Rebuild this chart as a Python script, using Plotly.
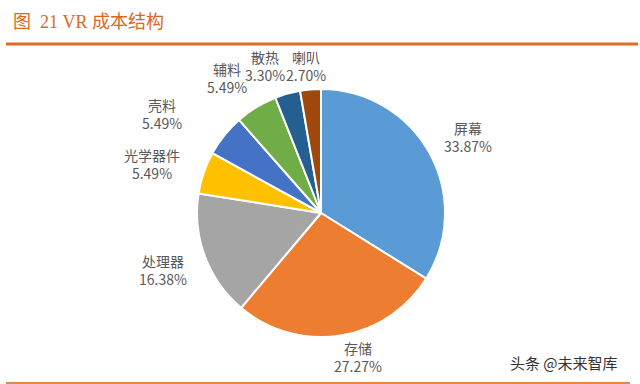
import math
import plotly.graph_objects as go

categories = ["屏幕", "存储", "处理器", "光学器件", "壳料", "辅料", "散热", "喇叭"]
shares = [33.87, 27.27, 16.38, 5.49, 5.49, 5.49, 3.30, 2.70]
colors = ["#5B9BD5", "#ED7D31", "#A5A5A5", "#FFC000", "#4472C4", "#70AD47", "#255E91", "#9E480E"]
title_text = "图  21 VR 成本结构"
watermark = "头条 @未来智库"

W, H = 640, 384
CX, CY, R = 321, 213, 124  # pie centre / radius in pixels
# per-label nudges (pixels) mimicking the Excel label placement
nudges = [(8, 0), (12, -10), (-9, 3), (-14, 2), (-38, -1), (-13, -2), (-14, 3), (-2, 8)]

fig = go.Figure()
fig.add_trace(go.Pie(
    labels=categories, values=shares, sort=False, direction="clockwise", rotation=0,
    marker=dict(colors=colors, line=dict(color="white", width=2)),
    textinfo="none", hoverinfo="label+percent", showlegend=False,
    domain=dict(x=[(CX - R) / W, (CX + R) / W], y=[(H - CY - R) / H, (H - CY + R) / H]),
))

total = sum(shares)
cum = 0.0
annotations = []
for cat, v, (nx, ny) in zip(categories, shares, nudges):
    mid = (cum + v / 2) / total * 2 * math.pi
    cum += v
    ux, uy = math.sin(mid), -math.cos(mid)
    label = f"{v:.2f}%"
    w = max(len(label) * 7.8, len(cat) * 14)
    h = 40
    px = CX + (R + 12) * ux + (w / 2) * ux + nx
    py = CY + (R + 12) * uy + (h / 2) * uy + ny
    annotations.append(dict(
        x=px / W, y=1 - py / H, xref="paper", yref="paper",
        text=f"{cat}<br>{label}", showarrow=False, xanchor="center", yanchor="middle",
        align="center", font=dict(size=14, color="#595959", family="Noto Sans CJK SC"),
    ))

annotations.append(dict(
    x=11 / W, y=1 - 22 / H, xref="paper", yref="paper", text=title_text, showarrow=False,
    xanchor="left", yanchor="middle",
    font=dict(size=18, color="#D9691F", family="Liberation Serif, Noto Sans CJK SC"),
))
annotations.append(dict(
    x=620 / W, y=1 - 362 / H, xref="paper", yref="paper", text=watermark, showarrow=False,
    xanchor="right", yanchor="middle",
    font=dict(size=15, color="#333333", family="Noto Sans CJK SC"),
))

shapes = [
    dict(type="line", xref="paper", yref="paper", x0=6 / W, x1=638 / W, y0=1 - 44 / H, y1=1 - 44 / H,
         line=dict(color="#E06A24", width=3)),
    dict(type="line", xref="paper", yref="paper", x0=6 / W, x1=630 / W, y0=1 - 383 / H, y1=1 - 383 / H,
         line=dict(color="#E08A4A", width=2)),
]

fig.update_layout(
    width=W, height=H, margin=dict(l=0, r=0, t=0, b=0),
    paper_bgcolor="white", plot_bgcolor="white",
    annotations=annotations, shapes=shapes,
)
fig.write_html("out.html", config={"displayModeBar": False},
               post_script="document.body.style.margin='0';")
